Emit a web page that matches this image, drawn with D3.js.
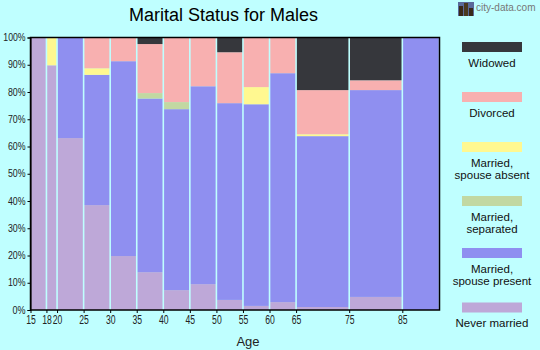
<!DOCTYPE html>
<html><head><meta charset="utf-8">
<script src="https://cdn.jsdelivr.net/npm/d3@7"></script>
<style>
html,body{margin:0;padding:0;background:#bfffff;}
svg{display:block;}
text{font-family:"Liberation Sans",Arial,sans-serif;}
</style></head>
<body>
<script>
// ---- data ----
const ageBreaks = [15,18,20,25,30,35,40,45,50,55,60,65,75,85,92];
const tickAges = [15,18,20,25,30,35,40,45,50,55,60,65,75,85];
const yTicks = [0,10,20,30,40,50,60,70,80,90,100];
const categories = ["Never married","Married, spouse present","Married, separated","Married, spouse absent","Divorced","Widowed"];
const neverMarried  = [100, 89.8, 63.1, 38.5, 19.8, 13.9, 7.3, 9.5, 3.7, 1.5, 2.9, 1.1, 4.8, 0];
const spousePresent = [0, 0, 36.9, 47.8, 71.5, 63.7, 66.4, 72.6, 72.2, 74.0, 84.0, 62.7, 75.9, 100];
const separated     = [0, 0, 0, 0, 0, 2.0, 2.6, 0, 0, 0, 0, 0, 0, 0];
const spouseAbsent  = [0, 10.2, 0, 2.4, 0, 0, 0, 0, 0, 6.3, 0, 0.7, 0, 0];
const divorced      = [0, 0, 0, 11.3, 8.7, 18.0, 23.7, 17.9, 18.7, 18.2, 13.1, 16.2, 3.6, 0];
const widowed       = [0, 0, 0, 0, 0, 2.4, 0, 0, 5.4, 0, 0, 19.3, 15.7, 0];
const colors = ["#bea8d8","#8f8ff0","#c2d8a2","#fff890","#f8b0b0","#36373c"];
const legendLabels = [["Never married"],["Married,","spouse present"],["Married,","separated"],["Married,","spouse absent"],["Divorced"],["Widowed"]];

const seriesList = [neverMarried, spousePresent, separated, spouseAbsent, divorced, widowed];
const rows = ageBreaks.slice(0,-1).map((lo,i)=>{
  const r = {lo, hi: ageBreaks[i+1]};
  categories.forEach((c,k)=> r[c] = seriesList[k][i]);
  return r;
});

const W=540,H=350;
const svg = d3.select("body").append("svg").attr("width",W).attr("height",H);
svg.append("rect").attr("width",W).attr("height",H).attr("fill","#bfffff");

const x = d3.scaleLinear().domain([15,92]).range([30.5,439.5]);
const y = d3.scaleLinear().domain([0,100]).range([310,37.5]);

const stack = d3.stack().keys(categories)(rows);
const g = svg.append("g");
stack.forEach((layer,k)=>{
  g.selectAll(null).data(layer.filter(d=>d[1]-d[0]>0)).enter().append("rect")
    .attr("x", d=> x(d.data.lo) + (d.data.lo===15?0.5:0.8))
    .attr("width", d=> x(d.data.hi)-x(d.data.lo) - (d.data.lo===15?1.3:1.6))
    .attr("y", d=> y(d[1]))
    .attr("height", d=> y(d[0])-y(d[1]))
    .attr("fill", colors[k]);
});

// frame
svg.append("rect").attr("x",30.5).attr("y",37.5).attr("width",409).attr("height",272.5)
  .attr("fill","none").attr("stroke","#000").attr("stroke-width",1.5);

// y axis
const ya = svg.append("g").attr("transform","translate(30.5,0)")
  .call(d3.axisLeft(y).tickValues(yTicks).tickFormat(d=>d+"%").tickSize(3).tickPadding(2));
ya.select(".domain").attr("stroke","#000");
ya.selectAll("text").attr("font-size","10px").attr("fill","#222")
  .attr("font-family","'Liberation Sans',Arial,sans-serif")
  .attr("textLength", d=> String(d).length*4.6+8.4).attr("lengthAdjust","spacingAndGlyphs");

// x axis
const xa = svg.append("g").attr("transform","translate(0,310)")
  .call(d3.axisBottom(x).tickValues(tickAges).tickFormat(d3.format("d")).tickSize(3).tickPadding(2));
xa.select(".domain").remove();
xa.selectAll("text").attr("font-size","12px").attr("fill","#222")
  .attr("font-family","'Liberation Sans',Arial,sans-serif")
  .attr("textLength", d=> String(d).length*4.8).attr("lengthAdjust","spacingAndGlyphs");

svg.append("text").attr("x",248).attr("y",346).attr("text-anchor","middle")
  .attr("font-size","13px").attr("fill","#222").text("Age");

// title
svg.append("text").attr("x",129).attr("y",21).attr("font-family","'DejaVu Sans',Verdana,sans-serif")
  .attr("font-size","18px").attr("fill","#000").text("Marital Status for Males");

// logo
const logo = svg.append("g");
logo.append("rect").attr("x",458).attr("y",2).attr("width",16).attr("height",14).attr("fill","#5a6a9a");
logo.append("rect").attr("x",459).attr("y",6).attr("width",4).attr("height",10).attr("fill","#3a2a1a");
logo.append("rect").attr("x",464).attr("y",3).attr("width",4).attr("height",13).attr("fill","#4a3a20");
logo.append("rect").attr("x",469).attr("y",8).attr("width",4).attr("height",8).attr("fill","#3a2a1a");
logo.append("text").attr("x",476).attr("y",11).attr("font-size","10px").attr("fill","#777")
  .attr("font-family","'DejaVu Sans',Verdana,sans-serif").text("city-data.com");

// legend
const legTop = [302.5,248,196,142,92,42];
const leg = svg.append("g");
categories.forEach((c,k)=>{
  const top = legTop[k];
  leg.append("rect").attr("x",462).attr("y",top).attr("width",60).attr("height",10).attr("fill",colors[k]);
  legendLabels[k].forEach((line,j)=>{
    leg.append("text").attr("x",492).attr("y",top+24.5+j*12.5).attr("text-anchor","middle")
      .attr("font-size","11.5px").attr("fill","#111").text(line);
  });
});
</script>
</body></html>
